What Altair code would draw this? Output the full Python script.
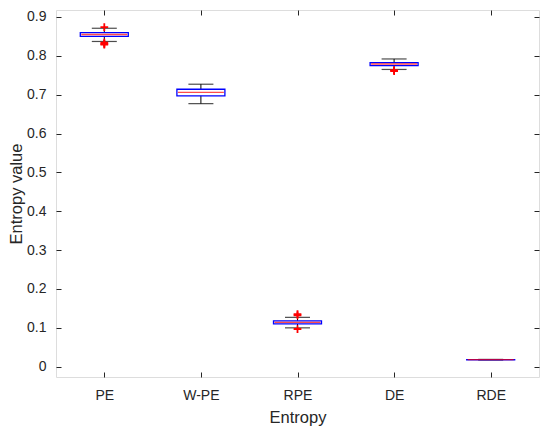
import altair as alt
import pandas as pd

categories = ["PE", "W-PE", "RPE", "DE", "RDE"]
q1 = [0.850, 0.697, 0.110, 0.775, 0.0177]
median = [0.855, 0.706, 0.114, 0.779, 0.0180]
q3 = [0.860, 0.714, 0.118, 0.7825, 0.0183]
whisker_low = [0.837, 0.677, 0.100, 0.765, 0.0172]
whisker_high = [0.871, 0.727, 0.127, 0.792, 0.0188]

outlier_cat = ["PE", "PE", "PE", "PE", "RPE", "RPE", "RPE", "DE", "DE"]
outlier_val = [0.874, 0.834, 0.831, 0.829, 0.135, 0.132, 0.097, 0.761, 0.763]

y_ticks = [0, 0.1, 0.2, 0.3, 0.4, 0.5, 0.6, 0.7, 0.8, 0.9]

box_df = pd.DataFrame({
    "cat": categories, "q1": q1, "median": median, "q3": q3,
    "lo": whisker_low, "hi": whisker_high,
})
out_df = pd.DataFrame({"cat": outlier_cat, "val": outlier_val})

FONT = "Liberation Sans"
INK = "#262626"

xscale = alt.Scale(type="point", domain=categories, padding=0.5)
yscale = alt.Scale(domain=[-0.0265, 0.918], nice=False, zero=False)

x_main = alt.X("cat:N", scale=xscale, sort=categories, title="Entropy",
               axis=alt.Axis(orient="bottom", offset=-5, tickSize=5, tickColor=INK,
                             domain=False, grid=False, labelAngle=0, labelPadding=11,
                             labelFont=FONT, labelFontSize=14, labelColor=INK,
                             titleFont=FONT, titleFontSize=16.5, titleFontWeight="normal",
                             titleColor=INK, titlePadding=7))
y_main = alt.Y("lo:Q", scale=yscale, title="Entropy value",
               axis=alt.Axis(orient="left", offset=-5, tickSize=5, tickColor=INK,
                             domain=False, grid=False, values=y_ticks, format=".1~f",
                             labelPadding=10, labelFont=FONT, labelFontSize=14,
                             labelColor=INK, titleFont=FONT, titleFontSize=16.5,
                             titleFontWeight="normal", titleColor=INK, titlePadding=2))

base = alt.Chart(box_df)

whiskers = base.mark_rule(color="black", strokeWidth=1).encode(
    x=x_main, y=y_main, y2="hi:Q"
)

cap_axis_x = alt.X("cat:N", scale=xscale, sort=categories, title=None,
                   axis=alt.Axis(orient="top", offset=-5, tickSize=5, tickColor=INK,
                                 domain=False, grid=False, labels=False))
cap_axis_y = alt.Y("lo:Q", scale=yscale, title=None,
                   axis=alt.Axis(orient="right", offset=-5, tickSize=5, tickColor=INK,
                                 domain=False, grid=False, labels=False, values=y_ticks))
cap_lo = base.mark_tick(color="black", size=25, thickness=1.2).encode(
    x=cap_axis_x, y=cap_axis_y
)
cap_hi = base.mark_tick(color="black", size=25, thickness=1.2).encode(
    x=alt.X("cat:N", scale=xscale, sort=categories, axis=None),
    y=alt.Y("hi:Q", scale=yscale, axis=None),
)

box = base.mark_bar(fill="white", stroke="#0000FF", strokeWidth=1.3, size=48).encode(
    x=alt.X("cat:N", scale=xscale, sort=categories, axis=None),
    y=alt.Y("q1:Q", scale=yscale, axis=None),
    y2="q3:Q",
)

med = base.mark_tick(color="#FF0000", size=46, thickness=1.3).encode(
    x=alt.X("cat:N", scale=xscale, sort=categories, axis=None),
    y=alt.Y("median:Q", scale=yscale, axis=None),
)

outliers = alt.Chart(out_df).mark_point(
    shape="M-1,0L1,0M0,-1L0,1", color="#FF0000", filled=False,
    size=60, strokeWidth=1.8, opacity=1
).encode(
    x=alt.X("cat:N", scale=xscale, sort=categories, axis=None),
    y=alt.Y("val:Q", scale=yscale, axis=None),
)

chart = alt.layer(whiskers, cap_lo, cap_hi, box, med, outliers).resolve_axis(
    x="independent", y="independent"
).properties(
    width=483, height=367,
    autosize=alt.AutoSizeParams(type="none"),
    padding={"left": 48, "top": 2, "right": 3, "bottom": 55},
).configure_view(stroke=INK, strokeWidth=1).configure_axis(grid=False).configure(background="white")

chart.save("out.html", embed_options={"renderer": "svg", "actions": False})
